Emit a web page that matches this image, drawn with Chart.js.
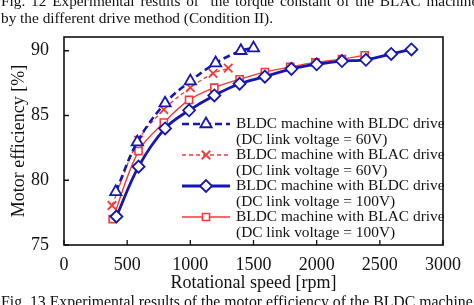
<!DOCTYPE html>
<html>
<head>
<meta charset="utf-8">
<script src="https://cdn.jsdelivr.net/npm/chart.js@4/dist/chart.umd.min.js"></script>
<style>
  html, body { margin:0; padding:0; background:#fff; }
  #wrap { position:relative; width:474px; height:305px; overflow:hidden; background:#fff; }
  canvas { position:absolute; left:0; top:0; }
  .cap { position:absolute; left:1px; font-family:"Liberation Serif", serif; font-size:15.3px; line-height:17px; color:#111; white-space:nowrap; }
</style>
</head>
<body>
<div id="wrap">
  <canvas id="c" width="474" height="305"></canvas>
  <div class="cap" style="top:-8px;"><span style="word-spacing:2px;">Fig. 12 Experimental results of&nbsp; the torque constant of the BLAC machine</span><br>by the different drive method (Condition II).</div>
  <div class="cap" style="top:293px; font-size:15.8px;">Fig. 13 Experimental results of the motor efficiency of the BLDC machine</div>
</div>
<script>
// ---- data ----
const xTicks = [0, 500, 1000, 1500, 2000, 2500, 3000];
const yTicks = [75, 80, 85, 90];

const seriesNames = [
  ["BLDC machine with BLDC drive", "(DC link voltage = 60V)"],
  ["BLDC machine with BLAC drive", "(DC link voltage = 60V)"],
  ["BLDC machine with BLDC drive", "(DC link voltage = 100V)"],
  ["BLDC machine with BLAC drive", "(DC link voltage = 100V)"]
];

const bldc60Speed = [410, 580, 800, 1000, 1200, 1400, 1500];
const bldc60Eff   = [79.1, 82.95, 85.95, 87.65, 89.05, 90.0, 90.2];

const blac60Speed = [380, 590, 790, 1000, 1180, 1300];
const blac60Eff   = [78.05, 83.1, 85.45, 87.15, 88.25, 88.65];

const bldc100Speed = [415, 590, 800, 990, 1190, 1390, 1590, 1800, 2000, 2200, 2390, 2590, 2750];
const bldc100Eff   = [77.2, 81.05, 84.0, 85.4, 86.55, 87.45, 88.0, 88.6, 88.95, 89.2, 89.3, 89.75, 90.1];

const blac100Speed = [385, 590, 790, 990, 1190, 1390, 1590, 1790, 1990, 2200, 2380];
const blac100Eff   = [77.0, 82.25, 84.45, 86.2, 87.15, 87.8, 88.35, 88.75, 89.1, 89.35, 89.65];

const BLUE = "#1616b0";
const RED  = "#f23a3a";
const FONT = "Liberation Serif";

function pts(xs, ys) { return xs.map((x, i) => ({x: x, y: ys[i]})); }

const datasets = [
  { data: pts(bldc60Speed, bldc60Eff), borderColor: BLUE, borderWidth: 2.6, borderDash: [7, 4],
    pointStyle: "triangle", pointRadius: 6.5, pointBorderWidth: 1.8, pointBorderColor: BLUE, pointBackgroundColor: "#fff" },
  { data: pts(blac60Speed, blac60Eff), borderColor: RED, borderWidth: 1.3, borderDash: [4, 3],
    pointStyle: "crossRot", pointRadius: 6, pointBorderWidth: 1.8, pointBorderColor: RED, pointBackgroundColor: "#fff" },
  { data: pts(bldc100Speed, bldc100Eff), borderColor: BLUE, borderWidth: 2.8, borderDash: [],
    pointStyle: "rectRot", pointRadius: 6, pointBorderWidth: 1.8, pointBorderColor: BLUE, pointBackgroundColor: "#fff" },
  { data: pts(blac100Speed, blac100Eff), borderColor: RED, borderWidth: 1.4, borderDash: [],
    pointStyle: "rect", pointRadius: 5, pointBorderWidth: 1.6, pointBorderColor: RED, pointBackgroundColor: "#fff" }
];
datasets.forEach((d, i) => { d.fill = false; d.tension = 0.35; d.label = seriesNames[i].join(" "); });

const frame = {
  id: "frame",
  afterDraw(chart) {
    const ctx = chart.ctx, a = chart.chartArea;
    const xs = chart.scales.x, ys = chart.scales.y;
    ctx.save();
    ctx.strokeStyle = "#111";
    ctx.lineWidth = 1.6;
    ctx.strokeRect(a.left, a.top, a.right - a.left, a.bottom - a.top);
    ctx.lineWidth = 1.3;
    ctx.beginPath();
    xTicks.forEach(v => { const p = xs.getPixelForValue(v); ctx.moveTo(p, a.bottom); ctx.lineTo(p, a.bottom - 5); });
    yTicks.forEach(v => { const p = ys.getPixelForValue(v); ctx.moveTo(a.left, p); ctx.lineTo(a.left + 5, p); });
    ctx.stroke();
    ctx.restore();
  }
};

const legendBox = {
  id: "legendBox",
  afterDatasetsDraw(chart) {
    const ctx = chart.ctx, a = chart.chartArea;
    const x0 = a.left + 118, x1 = a.left + 166, tx = a.left + 172;
    const y0 = a.top + 87, step = 31;
    ctx.save();
    chart.data.datasets.forEach((d, i) => {
      const y = y0 + i * step;
      ctx.strokeStyle = d.borderColor;
      ctx.lineWidth = d.borderWidth;
      ctx.setLineDash(d.borderDash || []);
      ctx.beginPath(); ctx.moveTo(x0, y); ctx.lineTo(x1, y); ctx.stroke();
      ctx.setLineDash([]);
      ctx.fillStyle = d.pointBackgroundColor;
      ctx.strokeStyle = d.pointBorderColor;
      ctx.lineWidth = d.pointBorderWidth;
      Chart.helpers.drawPoint(ctx, { pointStyle: d.pointStyle, radius: d.pointRadius, borderWidth: d.pointBorderWidth, rotation: 0 }, (x0 + x1) / 2, y);
      ctx.fillStyle = "#111";
      ctx.font = "15.4px '" + FONT + "'";
      ctx.textBaseline = "middle";
      ctx.textAlign = "left";
      ctx.fillText(seriesNames[i][0], tx, y);
      ctx.fillText(seriesNames[i][1], tx, y + 16);
    });
    ctx.restore();
  }
};

new Chart(document.getElementById("c"), {
  type: "line",
  data: { datasets: datasets },
  options: {
    responsive: false,
    animation: false,
    layout: { padding: { top: 37, right: 31, left: 0, bottom: 0 } },
    plugins: { legend: { display: false }, tooltip: { enabled: false } },
    scales: {
      x: {
        type: "linear", min: 0, max: 3000,
        afterBuildTicks: s => { s.ticks = xTicks.map(v => ({value: v})); },
        afterFit: s => { s.height = 60; },
        grid: { display: false, drawTicks: false },
        border: { display: false },
        ticks: { color: "#111", font: { family: FONT, size: 18 }, padding: 9, maxRotation: 0, callback: v => String(v) },
        title: { display: true, text: "Rotational speed [rpm]", color: "#111", font: { family: FONT, size: 18 }, padding: { top: 0, bottom: 11 } }
      },
      y: {
        type: "linear", min: 75, max: 91.06,
        afterBuildTicks: s => { s.ticks = yTicks.map(v => ({value: v})); },
        afterFit: s => { s.width = 64; },
        grid: { display: false, drawTicks: false },
        border: { display: false },
        ticks: { color: "#111", font: { family: FONT, size: 18 }, padding: 15, callback: v => String(v) },
        title: { display: true, text: "Motor efficiency [%]", color: "#111", font: { family: FONT, size: 18 }, padding: { top: 8, bottom: 0 } }
      }
    }
  },
  plugins: [frame, legendBox]
});
</script>
</body>
</html>
